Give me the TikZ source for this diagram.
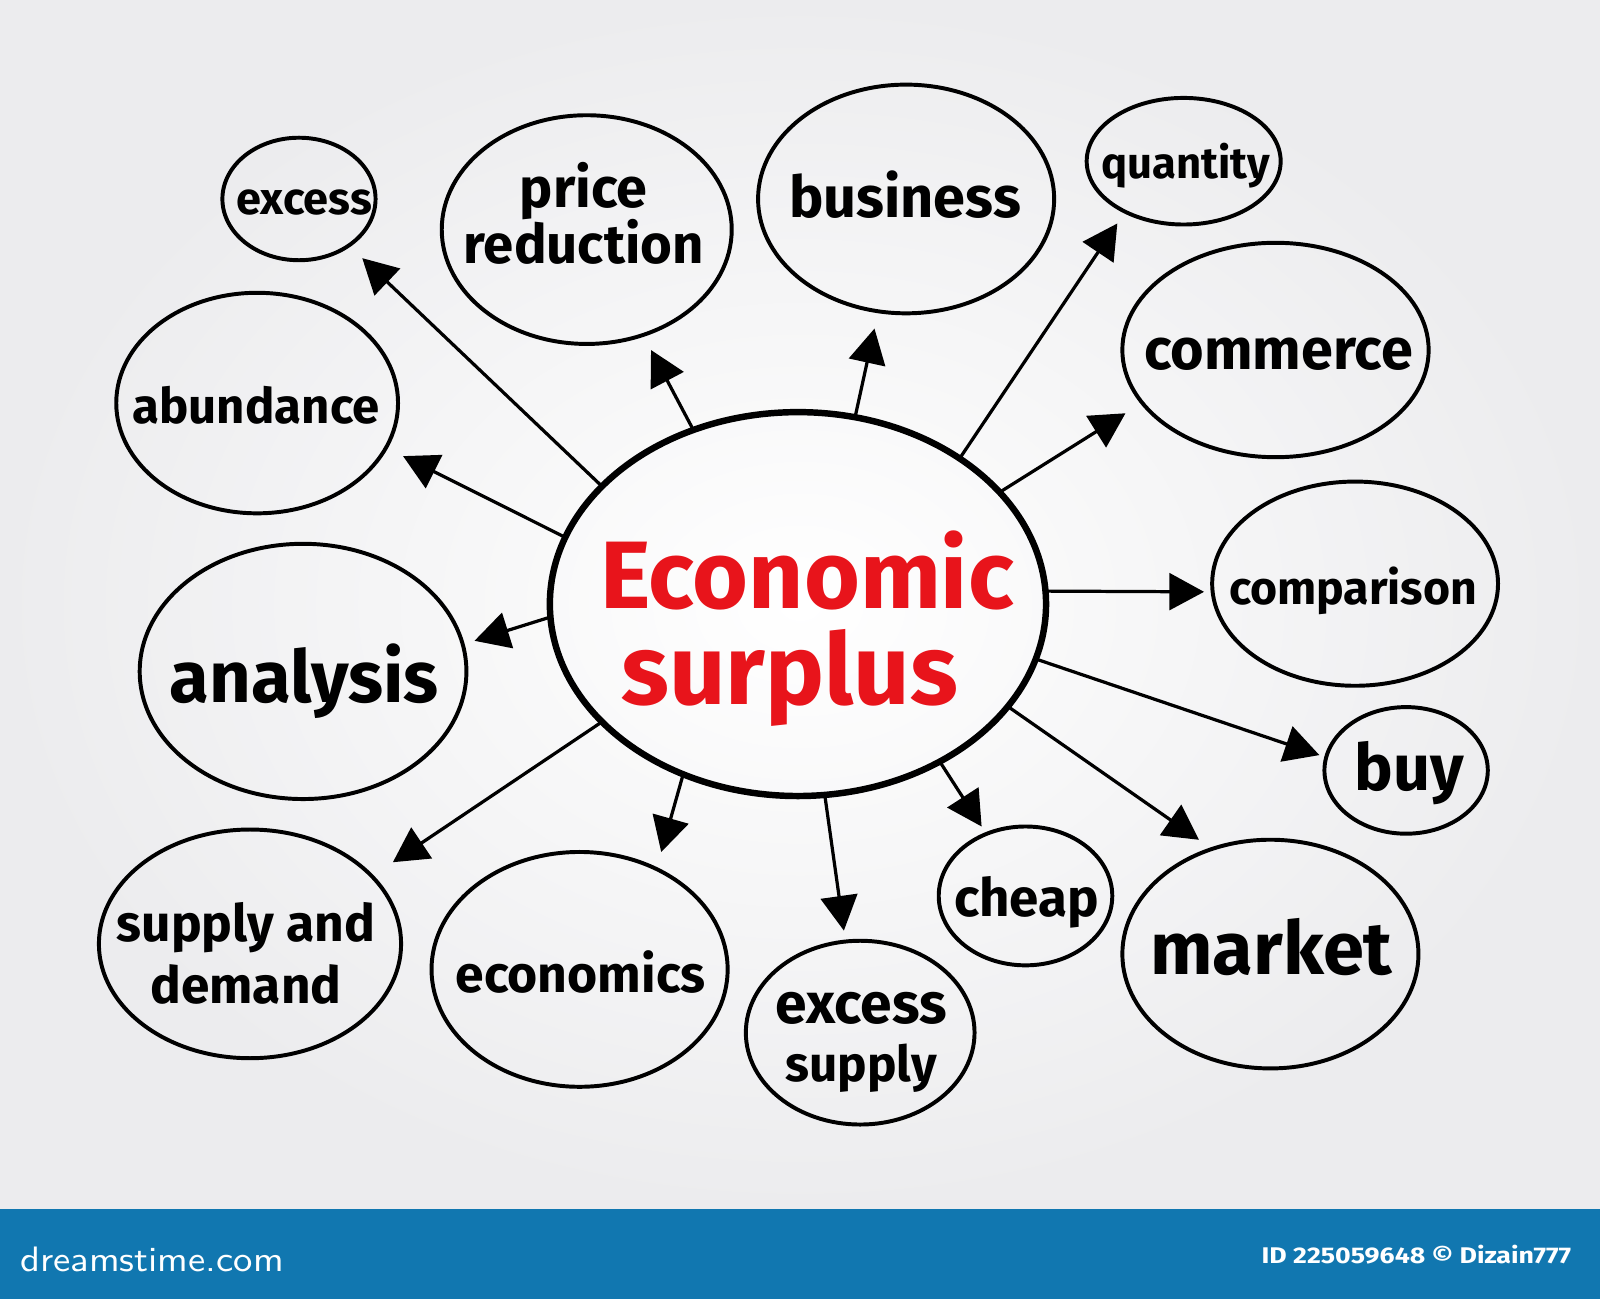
\documentclass[tikz,border=0pt]{standalone}
\usepackage{fontspec}
\setmainfont{Fira Sans}
\usetikzlibrary{shapes.geometric,arrows.meta}
\newcommand{\fw}[2]{\resizebox{#1}{!}{#2}}
\definecolor{barblue}{RGB}{17,119,176}
\definecolor{bggray}{RGB}{236,236,238}
\definecolor{titlered}{RGB}{232,20,27}
\begin{document}
\begin{tikzpicture}[x=0.01cm,y=-0.01cm,
  bub/.style={ellipse, draw=black, line width=1.1pt, inner sep=0pt, outer sep=0pt},
  word/.style={font=\bfseries, inner sep=0pt, anchor=base},
  conn/.style={line width=0.9pt, -{Triangle[length=3.4mm,width=3.6mm]}},
  foot/.style={text=white, inner sep=0pt, anchor=base}]
% background
\useasboundingbox (0,0) rectangle (1568,1273);
\shade[inner color=white, outer color=bggray] (0,0) rectangle (1568,1185);
\fill[barblue] (0,1185) rectangle (1568,1273);
\node[foot, font=\sffamily] (dt) at (149,1246) {\resizebox{2.58cm}{0.24cm}{dreamstime.com}};
\node[foot, font=\bfseries] (id) at (1388,1238) {\resizebox{3.03cm}{0.18cm}{ID 225059648 © Dizain777}};
% bubbles
\node[bub, line width=1.8pt, minimum width=4.86cm, minimum height=3.76cm] (c) at (782,592) {};
\node[bub, minimum width=1.50cm, minimum height=1.20cm] (ex) at (293,195) {};
\node[bub, minimum width=2.84cm, minimum height=2.24cm] (pr) at (575,225) {};
\node[bub, minimum width=2.90cm, minimum height=2.24cm] (bu) at (888,195) {};
\node[bub, minimum width=1.90cm, minimum height=1.24cm] (qu) at (1160,158) {};
\node[bub, minimum width=3.00cm, minimum height=2.10cm] (co) at (1250,343) {};
\node[bub, minimum width=2.76cm, minimum height=2.16cm] (ab) at (252,395) {};
\node[bub, minimum width=2.80cm, minimum height=2.00cm] (cp) at (1328,572) {};
\node[bub, minimum width=3.20cm, minimum height=2.50cm] (an) at (297,658) {};
\node[bub, minimum width=1.60cm, minimum height=1.24cm] (by) at (1378,755) {};
\node[bub, minimum width=2.96cm, minimum height=2.24cm] (sd) at (245,925) {};
\node[bub, minimum width=2.90cm, minimum height=2.30cm] (ec) at (568,950) {};
\node[bub, minimum width=2.24cm, minimum height=1.80cm] (es) at (843,1012) {};
\node[bub, minimum width=1.70cm, minimum height=1.36cm] (ch) at (1005,878) {};
\node[bub, minimum width=2.90cm, minimum height=2.24cm] (mk) at (1245,935) {};
% labels
\node[word, text=titlered] (t1) at (791,596) {\fw{4.05cm}{Economic}};
\node[word, text=titlered] (t2) at (774,690) {\fw{3.30cm}{surplus}};
\node[word] (lex) at (298,210) {\fw{1.33cm}{excess}};
\node[word] (lpr1) at (572,203) {\fw{1.25cm}{price}};
\node[word] (lpr2) at (572,258) {\fw{2.35cm}{reduction}};
\node[word] (lbu) at (887,213) {\fw{2.27cm}{business}};
\node[word] (lqu) at (1162,175) {\fw{1.65cm}{quantity}};
\node[word] (lco) at (1253,362) {\fw{2.63cm}{commerce}};
\node[word] (lab) at (251,415) {\fw{2.42cm}{abundance}};
\node[word] (lcp) at (1326,592) {\fw{2.43cm}{comparison}};
\node[word] (lan) at (298,688) {\fw{2.63cm}{analysis}};
\node[word] (lby) at (1381,775) {\fw{1.07cm}{buy}};
\node[word] (lsd1) at (241,923) {\fw{2.53cm}{supply and}};
\node[word] (lsd2) at (241,983) {\fw{1.87cm}{demand}};
\node[word] (lec) at (569,973) {\fw{2.45cm}{economics}};
\node[word] (les1) at (844,1003) {\fw{1.68cm}{excess}};
\node[word] (les2) at (844,1060) {\fw{1.48cm}{supply}};
\node[word] (lch) at (1006,898) {\fw{1.42cm}{cheap}};
\node[word] (lmk) at (1246,955) {\fw{2.37cm}{market}};
% arrow tips (free ends)
\coordinate (tex) at (355,253);
\coordinate (tpr) at (638,343);
\coordinate (tbu) at (857,322);
\coordinate (tqu) at (1095,219);
\coordinate (tco) at (1103,405);
\coordinate (tab) at (395,447);
\coordinate (tcp) at (1180,580);
\coordinate (tan) at (465,628);
\coordinate (tby) at (1293,740);
\coordinate (tsd) at (385,845);
\coordinate (tec) at (648,835);
\coordinate (tes) at (827,912);
\coordinate (tch) at (962,810);
\coordinate (tmk) at (1175,823);
% connectors
\draw[conn] (c.149) -- (tex);
\draw[conn] (c.121) -- (tpr);
\draw[conn] (c.73) -- (tbu);
\draw[conn] (c.42) -- (tqu);
\draw[conn] (c.29) -- (tco);
\draw[conn] (c.164) -- (tab);
\draw[conn] (c.3) -- (tcp);
\draw[conn] (c.183) -- (tan);
\draw[conn] (c.-13) -- (tby);
\draw[conn] (c.211) -- (tsd);
\draw[conn] (c.236) -- (tec);
\draw[conn] (c.278) -- (tes);
\draw[conn] (c.312) -- (tch);
\draw[conn] (c.334) -- (tmk);
\end{tikzpicture}
\end{document}
